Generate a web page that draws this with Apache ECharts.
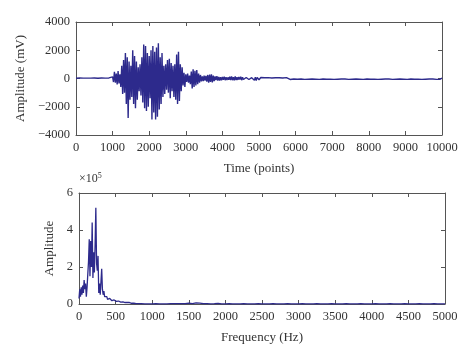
<!DOCTYPE html>
<html><head><meta charset="utf-8">
<script src="https://cdn.jsdelivr.net/npm/echarts@6/dist/echarts.min.js"></script>
<style>html,body{margin:0;padding:0;background:#fff}#c{width:474px;height:363px}</style>
</head><body><div id="c"></div>
<script>
// ---- Time-domain signal (mV) ----
// quiet segment: t = 0..950, step 50
const preSignal = [20,-30,40,-20,30,-40,25,-35,30,-20,40,-30,20,-40,35,-25,30,-30,40,-35];
// burst segment: t = 1000..4975, step 25
const burstSignal = [
 120,-250,480,-300,350,-420,520,-350,300,-600,900,-1100,1300,
 -1000,1800,-1800,1500,-2800,1200,-1500,
 900,-1300,2000,-1800,1600,-2100,1200,-1500,800,-900,
 1000,-1200,1500,-1700,2400,-2100,2300,-2300,1800,-2000,
 1600,-1400,2000,-2900,2300,-2400,1900,-2900,2200,-2700,
 2500,-2200,1500,-1800,1800,-1300,900,-1100,1000,-800,
 1300,-1000,1400,-1400,1100,-900,900,-1300,1000,-1500,
 1700,-1800,1900,-1600,1000,-900,800,-500,400,-600,
 300,-250,350,-300,200,-400,500,-700,650,-600,
 550,-500,600,-400,350,-300,250,-200,150,-180,
 200,-150,180,-220,250,-300,280,-250,300,-280,
 200,-180,150,-120,160,-150,120,-140,100,-130,
 110,-90,130,-120,90,-100,80,-90,120,-110,
 140,-120,100,-130,150,-110,90,-100,110,-80,
 130,-120,90,-70,60,-80,70,-60,50,-70,
 60,-50,60,-80,100,-120,90,-140,80,-60];
// tail segment: t = 5000..10000, step 50
const tailSignal = [
 -90,70,-60,50,-70,60,-50,40,-60,50,
 -40,50,-60,40,-50,60,90,-70,50,-40,
 40,-50,60,-40,50,-60,40,-50,60,-40,
 50,-50,40,-60,50,-40,60,-50,40,-50,
 50,-60,40,-50,60,-40,50,-40,50,-60,
 40,-50,60,-40,50,-50,40,-60,50,-40,
 60,-50,40,-50,50,-60,40,-50,60,-40,
 50,-40,50,-60,40,-50,60,-40,50,-50,
 40,-60,50,-40,60,-50,40,-50,50,-60,
 40,-50,60,-40,50,-40,50,-60,40,-50,30];

// ---- Spectrum (amplitude in units of 1e5) ----
// low band: f = 0..800 Hz, step 10
const specLow = [
 0.3,0.8,0.4,0.9,0.5,1.0,0.6,1.3,0.8,1.1,
 0.4,0.9,1.6,2.3,3.5,1.5,3.4,2.0,4.4,1.4,
 2.8,1.7,3.2,5.2,2.2,1.8,2.6,0.6,1.1,0.5,
 1.2,1.9,0.8,0.5,0.7,0.4,0.5,0.3,0.4,0.25,
 0.35,0.2,0.3,0.22,0.28,0.18,0.25,0.2,0.22,0.15,
 0.2,0.14,0.18,0.12,0.16,0.12,0.15,0.1,0.14,0.1,
 0.12,0.09,0.13,0.08,0.11,0.15,0.08,0.1,0.06,0.08,
 0.05,0.07,0.04,0.06,0.03,0.04,0.03,0.025,0.02,0.02,0.015];
// high band: f = 850..5000 Hz, step 50
const specHigh = [
 0.015,0.01,0.012,0.01,0.015,0.01,0.012,0.01,0.015,0.02,
 0.015,0.02,0.015,0.05,0.02,0.06,0.05,0.02,0.015,0.01,
 0.015,0.03,0.012,0.01,0.015,0.01,0.012,0.01,0.015,0.01,
 0.012,0.01,0.015,0.01,0.012,0.01,0.015,0.01,0.012,0.01,
 0.015,0.01,0.012,0.01,0.015,0.01,0.012,0.01,0.015,0.01,
 0.012,0.01,0.015,0.01,0.012,0.01,0.015,0.01,0.012,0.01,
 0.015,0.01,0.012,0.01,0.015,0.01,0.012,0.01,0.015,0.01,
 0.012,0.01,0.015,0.01,0.012,0.01,0.015,0.01,0.012,0.01,
 0.015,0.01,0.012,0.01];

const timeTicks = {min:0, max:10000, interval:1000};
const ampTicks = {min:-4000, max:4000, interval:2000};
const freqTicks = {min:0, max:5000, interval:500};
const specTicks = {min:0, max:6, interval:2};

function seg(arr, start, step){ return arr.map((v,i)=>[start+i*step, v]); }
const timeData = [].concat(seg(preSignal,0,50), seg(burstSignal,1000,25), seg(tailSignal,5000,50));
const specData = [].concat(seg(specLow,0,10), seg(specHigh,850,50));

const FONT = '"Liberation Serif","DejaVu Serif",serif';
const LINE = '#2d2a8c';
const AX = '#555';
function fmt(v){ return String(v).replace('-', '\u2212'); }
function axisBase(extra){
  return Object.assign({
    type:'value', splitLine:{show:false},
    axisLine:{show:true, onZero:false, lineStyle:{color:AX, width:1}},
    axisTick:{show:true, inside:true, length:4, lineStyle:{color:AX}},
    axisLabel:{fontFamily:FONT, fontSize:12.5, color:'#333', margin:6, formatter:fmt},
    nameTextStyle:{fontFamily:FONT, fontSize:13, color:'#333'}
  }, extra);
}
function mirror(extra){
  const a = axisBase(extra);
  a.axisLabel = {show:false};
  return a;
}

const chart = echarts.init(document.getElementById('c'), null, {renderer:'canvas'});
chart.setOption({
  animation:false,
  backgroundColor:'#fff',
  grid:[
    {left:76, right:32, top:22, height:113},
    {left:79, right:29, top:193, height:111}
  ],
  xAxis:[
    axisBase(Object.assign({gridIndex:0, position:'bottom', name:'Time (points)', nameLocation:'middle', nameGap:27}, timeTicks)),
    mirror(Object.assign({gridIndex:0, position:'top'}, timeTicks)),
    axisBase(Object.assign({gridIndex:1, position:'bottom', name:'Frequency (Hz)', nameLocation:'middle', nameGap:27}, freqTicks)),
    mirror(Object.assign({gridIndex:1, position:'top'}, freqTicks))
  ],
  yAxis:[
    axisBase(Object.assign({gridIndex:0, position:'left', name:'Amplitude (mV)', nameLocation:'middle', nameGap:46}, ampTicks)),
    mirror(Object.assign({gridIndex:0, position:'right'}, ampTicks)),
    axisBase(Object.assign({gridIndex:1, position:'left', name:'Amplitude', nameLocation:'middle', nameGap:19}, specTicks)),
    mirror(Object.assign({gridIndex:1, position:'right'}, specTicks))
  ],
  graphic:[{
    type:'text', left:79, top:172,
    style:{text:'×10{s|5}', fontFamily:FONT, fontSize:12, fill:'#333',
      rich:{s:{fontSize:8, verticalAlign:'top', padding:[0,0,6,0], fontFamily:FONT, fill:'#333'}}}
  }],
  series:[
    {type:'line', xAxisIndex:0, yAxisIndex:0, data:timeData, showSymbol:false, sampling:'none',
     lineStyle:{color:LINE, width:1.4}, itemStyle:{color:LINE}},
    {type:'line', xAxisIndex:2, yAxisIndex:2, data:specData, showSymbol:false, sampling:'none',
     lineStyle:{color:LINE, width:1.3}, itemStyle:{color:LINE}}
  ]
});
</script></body></html>
